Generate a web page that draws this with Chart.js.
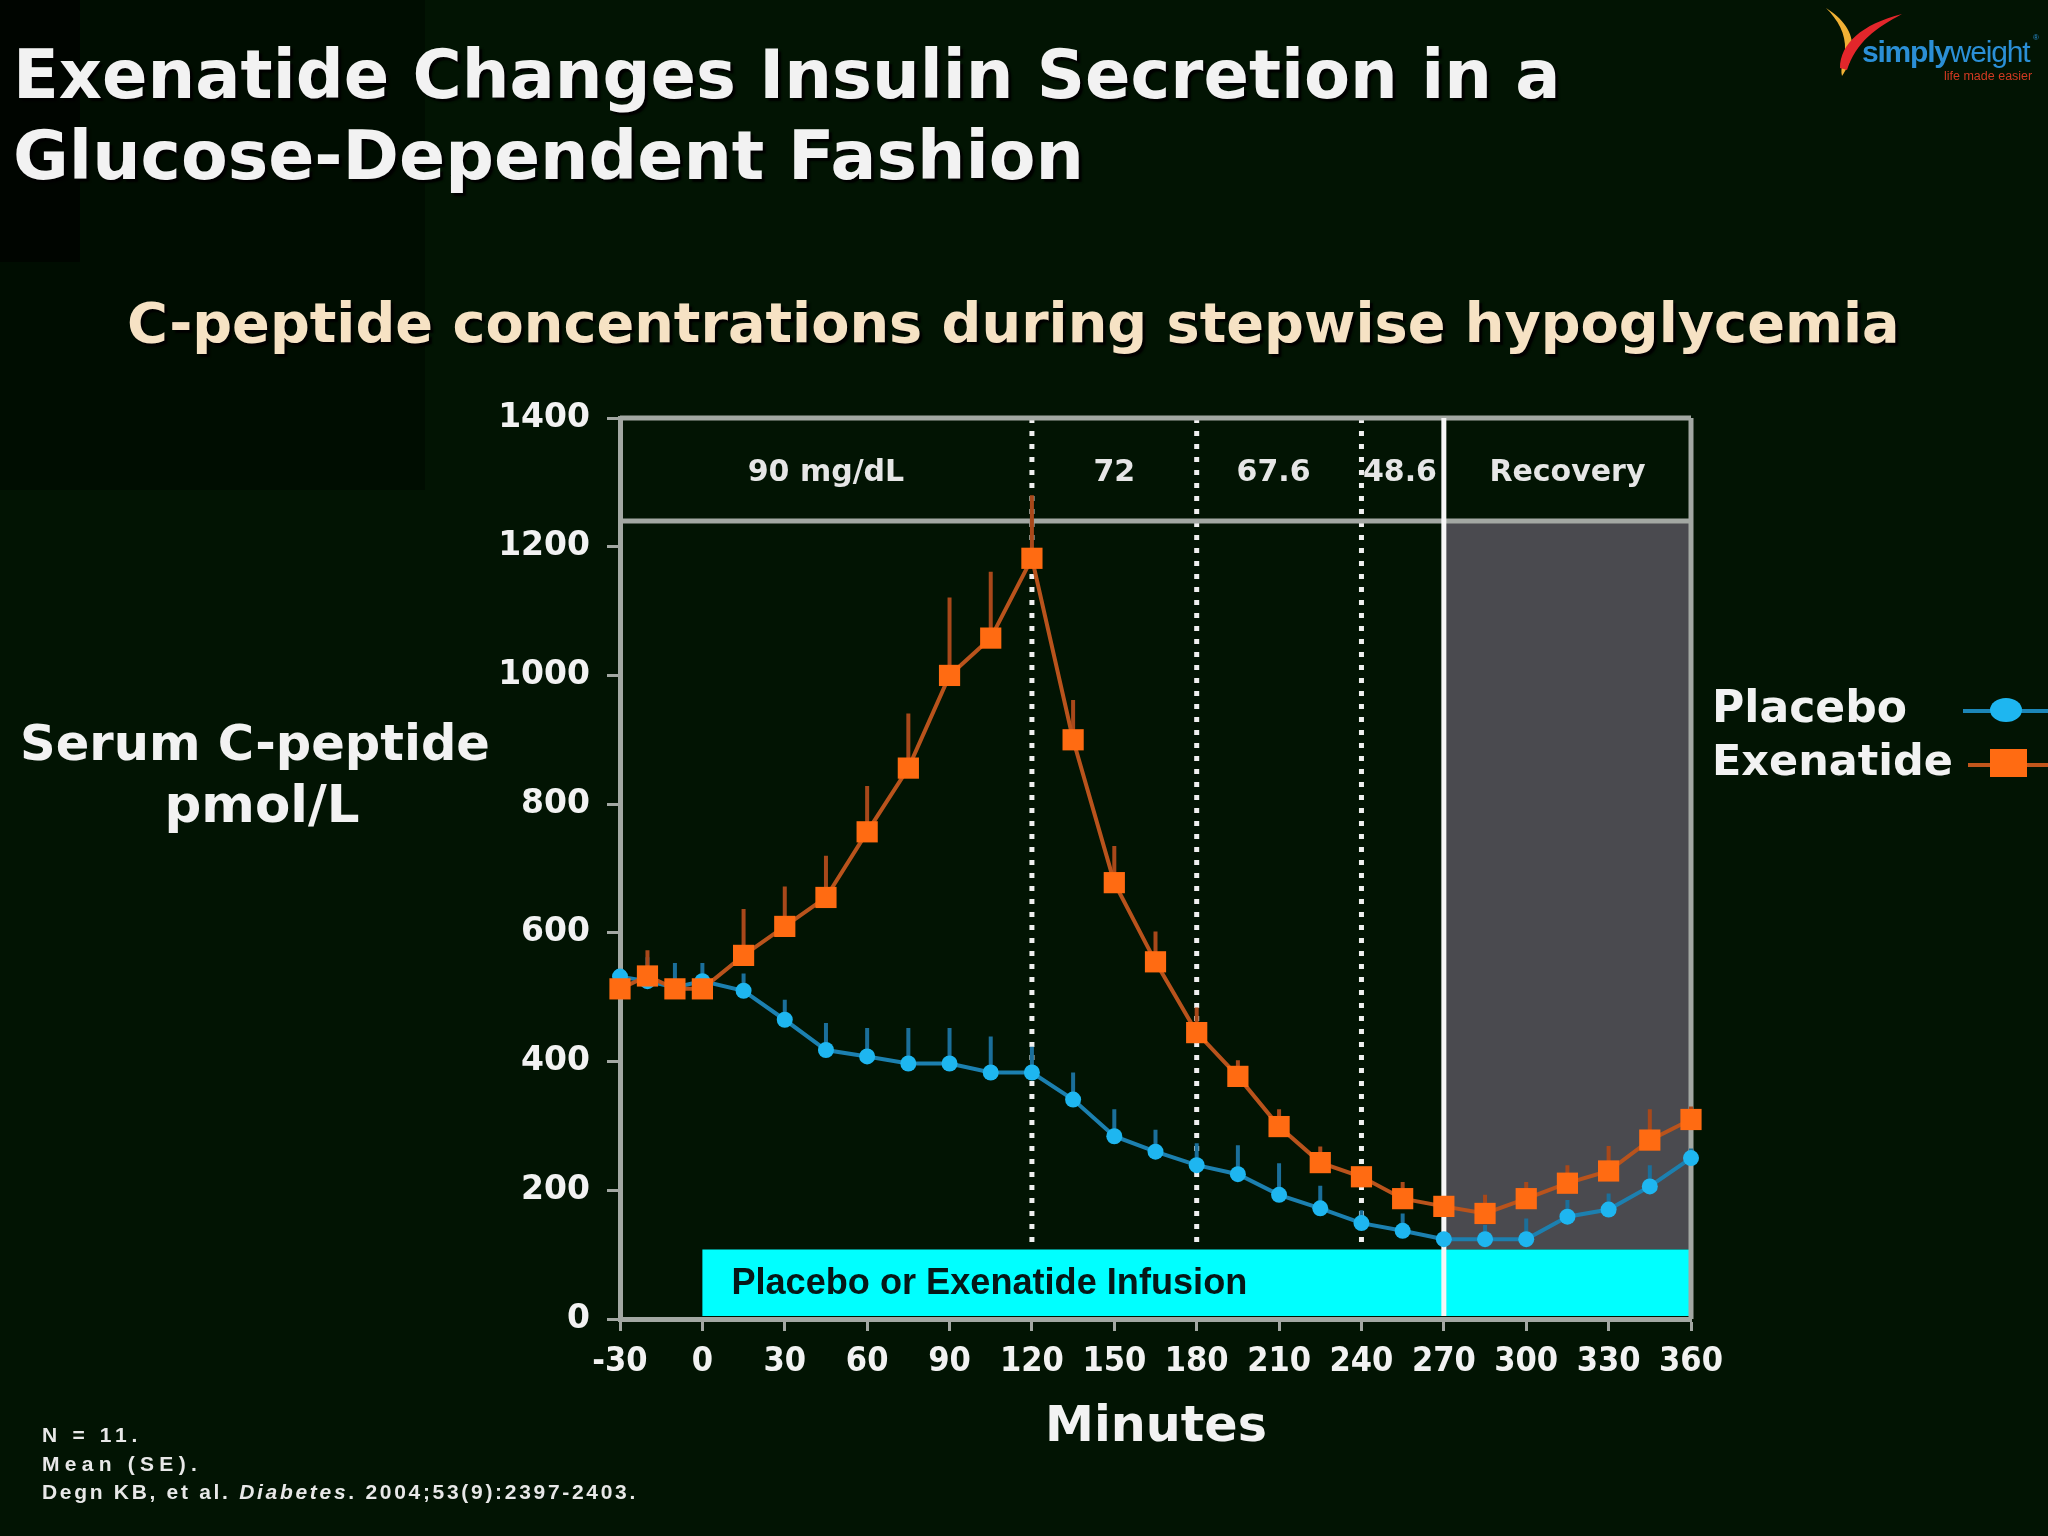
<!DOCTYPE html>
<html lang="en">
<head>
  <meta charset="UTF-8">
  <title>C-peptide concentrations during stepwise hypoglycemia</title>
  <style>
    html, body { margin: 0; padding: 0; }
    body {
      width: 2048px;
      height: 1536px;
      background: #021403;
      position: relative;
      overflow: hidden;
      font-family: "DejaVu Sans", sans-serif;
    }
    #chart { position: absolute; left: 0; top: 0; }
    .txt {
      position: absolute;
      white-space: nowrap;
      line-height: 1;
      font-weight: bold;
    }
    .shadow { text-shadow: 3px 3px 2px #000; }
    .patch { position: absolute; left: 0; top: 0; }
    #logo { position: absolute; left: 1800px; top: 0; }
  </style>
</head>
<body>

  <div class="patch" style="width:425px;height:490px;background:#000d01"></div>
  <div class="patch" style="width:80px;height:262px;background:#000500"></div>

  <canvas id="chart" width="2048" height="1536"></canvas>

  <svg id="logo" width="248" height="100" viewBox="0 0 248 100">
    <path d="M26,8 C42,18 54,32 52,50 C51,62 46,70 42,76 C40,68 44,60 45,50 C46,34 38,20 26,8 Z" fill="#f0b135"/>
    <path d="M40,68 C40,44 62,24 102,14 C76,28 56,42 47,70 Z" fill="#e3262b"/>
    <text x="62" y="62" font-family="Liberation Sans, Arial, sans-serif" font-size="30" fill="#2b8fd6" letter-spacing="-1.2"><tspan font-weight="bold">simply</tspan><tspan>weight</tspan></text>
    <text x="233" y="40" font-family="Liberation Sans, sans-serif" font-size="8" fill="#2b8fd6">®</text>
    <text x="144" y="80" font-family="Liberation Sans, sans-serif" font-size="12.5" fill="#d23a22">life made easier</text>
  </svg>

  <script src="https://cdn.jsdelivr.net/npm/chart.js"></script>
  <script>
    // Sampling times (minutes) and C-peptide means (pmol/L) with upward SE
    const minutes = [-30, -20, -10, 0, 15, 30, 45, 60, 75, 90, 105, 120, 135, 150,
                     165, 180, 195, 210, 225, 240, 255, 270, 285, 300, 315, 330, 345, 360];
    const exenatide = [513, 533, 513, 513, 565, 610, 655, 757, 856, 1000, 1058, 1182, 900, 678,
                       555, 445, 377, 299, 243, 221, 187, 175, 164, 187, 211, 230, 278, 310];
    const exenatideSE = [12, 40, 10, 10, 72, 62, 65, 71, 85, 121, 103, 98, 62, 57,
                         47, 39, 25, 27, 25, 15, 26, 10, 29, 26, 28, 39, 48, 20];
    const placebo = [532, 525, 515, 525, 510, 465, 418, 408, 397, 397, 383, 383, 341, 284,
                     260, 239, 225, 193, 172, 149, 137, 124, 124, 124, 159, 170, 206, 250];
    const placeboSE = [10, 37, 38, 28, 27, 31, 42, 44, 55, 55, 56, 40, 42, 42,
                       34, 34, 45, 49, 35, 20, 27, 10, 22, 32, 26, 25, 33, 15];

    // Glucose clamp steps shown in the header band
    const phaseLabels = ['90 mg/dL', '72', '67.6', '48.6', 'Recovery'];
    const phaseCenters = [45, 150, 208, 254, 315];
    const stepLines = [120, 180, 240];
    const recoveryStart = 270;
    const infusion = [0, 360];

    const xMin = -30, xMax = 360, xStep = 30;
    const yMin = 0, yMax = 1400, yStep = 200;
    const headerFrom = 1240;
    const infusionTop = 108;

    const axisGray = '#a3a8a3';
    const footFamily = '"Liberation Sans", sans-serif';

    // Outer texts: placed by their baseline and fitted to the width seen in the slide
    // (footnotes are widened with letter spacing instead of size)
    const texts = [
      { t: 'Exenatide Changes Insulin Secretion in a', x: 13, base: 99, w: 1548, size: 67, color: '#f2f2f2', cls: 'shadow' },
      { t: 'Glucose-Dependent Fashion', x: 13, base: 180, w: 1071, size: 67, color: '#f2f2f2', cls: 'shadow' },
      { t: 'C-peptide concentrations during stepwise hypoglycemia', x: 127, base: 342, w: 1773, size: 54, color: '#f6e2c4', cls: 'shadow' },
      { t: 'Serum C-peptide', cx: 255, base: 761, w: 470, size: 46, color: '#f2f2f2' },
      { t: 'pmol/L', cx: 262, base: 823, w: 195, size: 46, color: '#f2f2f2' },
      { t: 'Placebo', x: 1712, base: 722, w: 195, size: 44, color: '#f2f2f2' },
      { t: 'Exenatide', x: 1712, base: 775, w: 241, size: 44, color: '#f2f2f2' },
      { t: 'Minutes', cx: 1156, base: 1442, w: 222, size: 50, color: '#f2f2f2' },
      { t: 'N = 11.', x: 42, base: 1442, w: 100, spread: true, size: 21, color: '#e8e8e8', fam: footFamily },
      { t: 'Mean (SE).', x: 42, base: 1471, w: 160, spread: true, size: 21, color: '#e8e8e8', fam: footFamily },
      { h: 'Degn KB, et al. <i>Diabetes</i>. 2004;53(9):2397-2403.', x: 42, base: 1499, w: 596, spread: true, size: 21, color: '#e8e8e8', fam: footFamily }
    ];

    texts.forEach(d => {
      const el = document.createElement('div');
      el.className = 'txt' + (d.cls ? ' ' + d.cls : '');
      if (d.h) el.innerHTML = d.h; else el.textContent = d.t;
      el.style.color = d.color;
      if (d.fam) el.style.fontFamily = d.fam;
      el.style.fontSize = d.size + 'px';
      document.body.appendChild(el);
      let size = d.size;
      if (d.w) {
        const w0 = el.getBoundingClientRect().width;
        if (d.spread) {
          el.style.letterSpacing = ((d.w - w0) / el.textContent.length) + 'px';
        } else {
          size = d.size * d.w / w0;
          el.style.fontSize = size + 'px';
        }
      }
      const width = el.getBoundingClientRect().width;
      el.style.left = (d.cx !== undefined ? d.cx - width / 2 : d.x) + 'px';
      el.style.top = (d.base - 0.846 * size) + 'px';
    });

    // Legend markers
    const legendMarks = document.createElementNS('http://www.w3.org/2000/svg', 'svg');
    legendMarks.setAttribute('width', '100');
    legendMarks.setAttribute('height', '100');
    legendMarks.style.cssText = 'position:absolute;left:1948px;top:690px';
    legendMarks.innerHTML =
      '<line x1="15" y1="21" x2="100" y2="21" stroke="#1c86b8" stroke-width="4"/>' +
      '<ellipse cx="58" cy="20" rx="16" ry="12" fill="#1eb6f0"/>' +
      '<line x1="20" y1="75" x2="100" y2="75" stroke="#c2561c" stroke-width="4"/>' +
      '<rect x="42" y="59" width="37" height="28" fill="#ff6b12"/>';
    document.body.appendChild(legendMarks);

    const decor = {
      id: 'decor',
      beforeDatasetsDraw(chart) {
        const { ctx, scales: { x, y } } = chart;
        ctx.save();

        // recovery shading
        ctx.fillStyle = '#4a4a4f';
        ctx.fillRect(x.getPixelForValue(recoveryStart), y.getPixelForValue(headerFrom),
          x.getPixelForValue(xMax) - x.getPixelForValue(recoveryStart),
          y.getPixelForValue(infusionTop) - y.getPixelForValue(headerFrom));

        // infusion bar
        const ix0 = x.getPixelForValue(infusion[0]);
        const ix1 = x.getPixelForValue(infusion[1]);
        const iyTop = y.getPixelForValue(infusionTop);
        ctx.fillStyle = '#00ffff';
        ctx.fillRect(ix0, iyTop, ix1 - ix0, y.getPixelForValue(0) - 3 - iyTop);
        ctx.fillStyle = '#061818';
        let fs = 31;
        ctx.font = 'bold ' + fs + 'px "Liberation Sans", sans-serif';
        const label = 'Placebo or Exenatide Infusion';
        fs = fs * 516 / ctx.measureText(label).width;
        ctx.font = 'bold ' + fs + 'px "Liberation Sans", sans-serif';
        ctx.textAlign = 'left';
        ctx.textBaseline = 'middle';
        ctx.fillText(label, ix0 + 29, y.getPixelForValue(54));

        // dotted step lines
        ctx.strokeStyle = '#f0f0f0';
        ctx.lineWidth = 5;
        ctx.setLineDash([5, 8]);
        stepLines.forEach(m => {
          const px = x.getPixelForValue(m);
          ctx.beginPath();
          ctx.moveTo(px, y.getPixelForValue(yMax));
          ctx.lineTo(px, iyTop);
          ctx.stroke();
        });
        ctx.setLineDash([]);

        // frame: header line, top and right borders
        ctx.strokeStyle = axisGray;
        ctx.lineWidth = 5;
        const left = x.getPixelForValue(xMin), right = x.getPixelForValue(xMax);
        ctx.beginPath();
        ctx.moveTo(left, y.getPixelForValue(headerFrom));
        ctx.lineTo(right, y.getPixelForValue(headerFrom));
        ctx.moveTo(left, y.getPixelForValue(yMax));
        ctx.lineTo(right, y.getPixelForValue(yMax));
        ctx.moveTo(right, y.getPixelForValue(yMax));
        ctx.lineTo(right, y.getPixelForValue(0));
        ctx.stroke();

        // start of recovery
        ctx.strokeStyle = '#f6f6f6';
        ctx.lineWidth = 5;
        ctx.beginPath();
        ctx.moveTo(x.getPixelForValue(recoveryStart), y.getPixelForValue(yMax));
        ctx.lineTo(x.getPixelForValue(recoveryStart), y.getPixelForValue(0) - 3);
        ctx.stroke();

        // header labels
        ctx.fillStyle = '#e6e6e6';
        ctx.font = 'bold 30px "DejaVu Sans", sans-serif';
        ctx.textAlign = 'center';
        ctx.textBaseline = 'middle';
        phaseLabels.forEach((t, i) => {
          ctx.fillText(t, x.getPixelForValue(phaseCenters[i]), y.getPixelForValue(1314));
        });

        // upward SE bars
        const bars = (vals, errs, color) => {
          ctx.strokeStyle = color;
          ctx.lineWidth = 4;
          ctx.beginPath();
          minutes.forEach((m, i) => {
            const px = x.getPixelForValue(m);
            ctx.moveTo(px, y.getPixelForValue(vals[i]));
            ctx.lineTo(px, y.getPixelForValue(vals[i] + errs[i]));
          });
          ctx.stroke();
        };
        bars(placebo, placeboSE, '#1b6f9a');
        bars(exenatide, exenatideSE, '#a8481a');

        ctx.restore();
      }
    };

    const tickFontY = { family: '"DejaVu Sans", sans-serif', size: 33, weight: 'bold' };
    const tickFontX = { family: '"Liberation Sans Narrow", "DejaVu Sans Condensed", sans-serif', size: 34, weight: 'bold' };

    new Chart(document.getElementById('chart').getContext('2d'), {
      type: 'line',
      data: {
        datasets: [
          {
            label: 'Exenatide',
            data: minutes.map((m, i) => ({ x: m, y: exenatide[i] })),
            borderColor: '#b9531c',
            borderWidth: 4,
            pointStyle: 'rect',
            pointRadius: 15,
            pointBackgroundColor: '#ff6b12',
            pointBorderWidth: 0,
            clip: false
          },
          {
            label: 'Placebo',
            data: minutes.map((m, i) => ({ x: m, y: placebo[i] })),
            borderColor: '#1c80b0',
            borderWidth: 4,
            pointStyle: 'circle',
            pointRadius: 8,
            pointBackgroundColor: '#1eb6f0',
            pointBorderWidth: 0,
            clip: false
          }
        ]
      },
      options: {
        responsive: false,
        animation: false,
        layout: { padding: { left: 500, right: 357, top: 418, bottom: 117 } },
        plugins: { legend: { display: false }, tooltip: { enabled: false } },
        scales: {
          x: {
            type: 'linear',
            min: xMin,
            max: xMax,
            ticks: { stepSize: xStep, color: '#f2f2f2', font: tickFontX, padding: 11, maxRotation: 0, autoSkip: false,
                     callback: v => String(v) },
            grid: { drawOnChartArea: false, drawTicks: true, tickLength: 12, tickColor: axisGray, tickWidth: 3 },
            border: { display: true, color: axisGray, width: 5 },
            afterFit(s) { s.height = 100; }
          },
          y: {
            min: yMin,
            max: yMax,
            ticks: { stepSize: yStep, color: '#f2f2f2', font: tickFontY, padding: 17,
                     callback: v => String(v) },
            grid: { drawOnChartArea: false, drawTicks: true, tickLength: 13, tickColor: axisGray, tickWidth: 3 },
            border: { display: true, color: axisGray, width: 5 },
            afterFit(s) { s.width = 120; }
          }
        }
      },
      plugins: [decor]
    });
  </script>
</body>
</html>
